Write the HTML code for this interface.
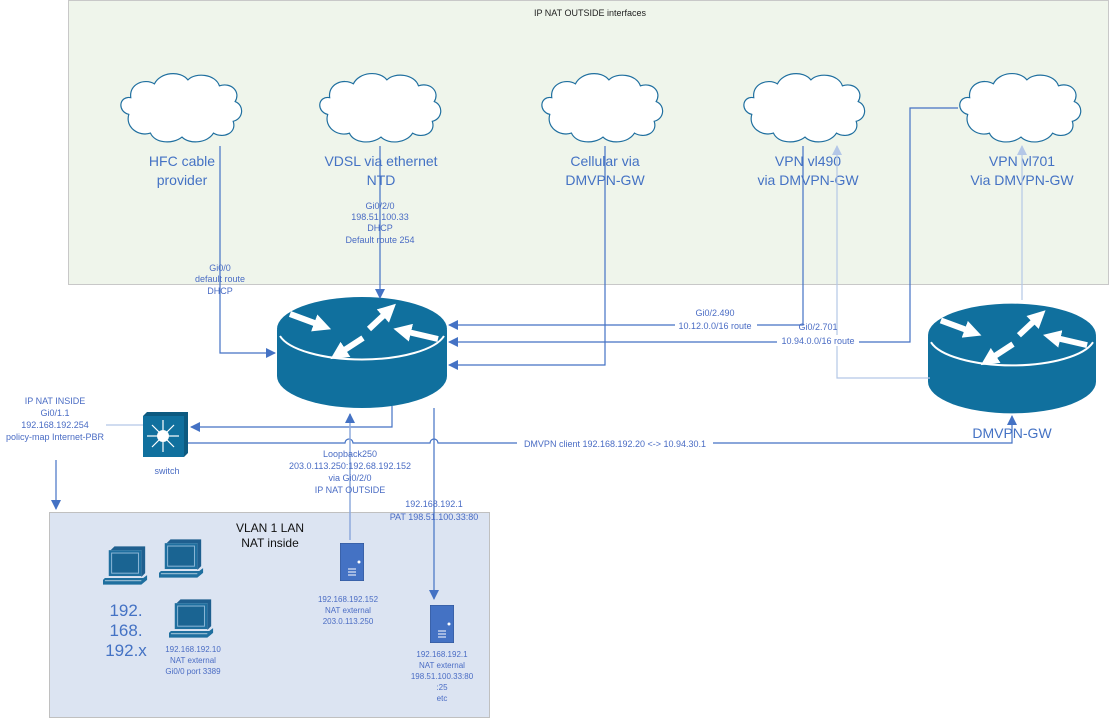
<!DOCTYPE html>
<html><head><meta charset="utf-8"><style>
html,body{margin:0;padding:0;background:#fff;}
svg{display:block;font-family:"Liberation Sans",sans-serif;}
.s{font-size:9px;fill:#4a6cc4;}
.m{font-size:14px;fill:#4472c4;}
</style></head><body>
<svg width="1110" height="719" viewBox="0 0 1110 719" xmlns="http://www.w3.org/2000/svg">
<defs>
<marker id="a" markerWidth="10" markerHeight="10" refX="9" refY="5" orient="auto" markerUnits="userSpaceOnUse"><path d="M0,0 L10,5 L0,10 z" fill="#4472c4"/></marker>
<marker id="al" markerWidth="10" markerHeight="10" refX="9" refY="5" orient="auto" markerUnits="userSpaceOnUse"><path d="M0,0 L10,5 L0,10 z" fill="#b4c7e7"/></marker>
<marker id="w" markerWidth="3" markerHeight="3" refX="0.5" refY="1.5" orient="auto" markerUnits="strokeWidth"><path d="M0,0 L3,1.5 L0,3 z" fill="#fff"/></marker>
<symbol id="cloud" viewBox="0 0 130 75">
<path d="M12,45 C0,42 2,26 14,28 C12,14 28,8 38,14 C44,2 64,0 72,10 C80,2 100,4 104,16 C116,12 126,22 120,32 C130,36 128,50 118,52 C122,64 108,70 98,64 C92,74 74,76 66,68 C56,76 38,74 34,64 C22,68 8,58 12,45 z" fill="#fff" stroke="#1f6f9f" stroke-width="1.2"/>
</symbol>
<symbol id="router" viewBox="0 0 170 112">
<path d="M0,34 L0,80 A85,32 0 0 0 170,80 L170,34 z" fill="#10709e"/>
<ellipse cx="85" cy="33" rx="85" ry="32" fill="#10709e"/>
<path d="M3,40 A84,30 0 0 0 167,40" fill="none" stroke="#fff" stroke-width="2"/>
<g stroke="#fff" stroke-width="6" marker-end="url(#w)">
<line x1="13" y1="18" x2="40" y2="28"/>
<line x1="92" y1="33" x2="108" y2="18"/>
<line x1="161" y1="43" x2="131" y2="36"/>
<line x1="86" y1="42" x2="66" y2="55"/>
</g>
</symbol>
<symbol id="pc" viewBox="0 0 48 40">
<path d="M8,4 L12,0 L44,0 L44,28 L40,32 L40,4 z" fill="#1f5f8f"/>
<rect x="6" y="4" width="34" height="27" fill="#1f6f9f"/>
<rect x="9" y="7" width="28" height="21" fill="#1a6492" stroke="#8fb8d8" stroke-width="1"/>
<path d="M2,33 L42,33 L46,30 L46,35 L40,40 L0,40 L0,35 z" fill="#1f6f9f"/>
<line x1="2" y1="36" x2="40" y2="36" stroke="#fff" stroke-width="0.7"/>
</symbol>
<symbol id="srv" viewBox="0 0 24 38">
<rect x="0" y="0" width="24" height="38" fill="#4472c4" stroke="#2f528f" stroke-width="1"/>
<circle cx="19" cy="19" r="1.5" fill="#fff"/>
<line x1="8" y1="26" x2="16" y2="26" stroke="#fff"/><line x1="8" y1="29" x2="16" y2="29" stroke="#fff"/><line x1="8" y1="32" x2="16" y2="32" stroke="#fff"/>
</symbol>
</defs>

<rect x="68.5" y="0.5" width="1040" height="284" fill="#eff5eb" stroke="#c8c8c8"/>
<text x="590" y="16" font-size="9" text-anchor="middle" fill="#222">IP NAT OUTSIDE interfaces</text>

<rect x="49.5" y="512.5" width="440" height="205" fill="#dce4f2" stroke="#c0c0c0"/>
<text x="270" y="532" font-size="12" text-anchor="middle" fill="#111">VLAN 1 LAN</text>
<text x="270" y="547" font-size="12" text-anchor="middle" fill="#111">NAT inside</text>

<use href="#cloud" x="117" y="70" width="128" height="74"/>
<use href="#cloud" x="315" y="70" width="130" height="74"/>
<use href="#cloud" x="538" y="70" width="128" height="74"/>
<use href="#cloud" x="740" y="70" width="128" height="74"/>
<use href="#cloud" x="955" y="70" width="130" height="74"/>

<g class="m" text-anchor="middle">
<text x="182" y="166">HFC cable</text><text x="182" y="185">provider</text>
<text x="381" y="166">VDSL via ethernet</text><text x="381" y="185">NTD</text>
<text x="605" y="166">Cellular via</text><text x="605" y="185">DMVPN-GW</text>
<text x="808" y="166">VPN vl490</text><text x="808" y="185">via DMVPN-GW</text>
<text x="1022" y="166">VPN vl701</text><text x="1022" y="185">Via DMVPN-GW</text>
<text x="1012" y="438">DMVPN-GW</text>
</g>

<use href="#router" x="277" y="296" width="170" height="112"/>
<use href="#router" x="928" y="302" width="168" height="112"/>

<g fill="none" stroke="#4472c4" stroke-width="1.2">
<path d="M220,146 V353 H275" marker-end="url(#a)"/>
<path d="M380,146 V298" marker-end="url(#a)"/>
<path d="M605,146 V365 H449" marker-end="url(#a)"/>
<path d="M803,146 V325 H449" marker-end="url(#a)"/>
<path d="M958,108 H910 V342 H449" marker-end="url(#a)"/>
<path d="M392,406 V427 H191" marker-end="url(#a)"/>
<path d="M188,443 H345 a4,4 0 0 1 8,0 H430 a4,4 0 0 1 8,0 H1012 V416" marker-end="url(#a)"/>
<path d="M434,408 V599" marker-end="url(#a)"/>
<path d="M56,460 V509" marker-end="url(#a)"/>
</g>
<g fill="none" stroke="#b4c7e7" stroke-width="1.2">
<path d="M930,378 H837 V146" marker-end="url(#al)"/>
<path d="M1022,300 V146" marker-end="url(#al)"/>
<path d="M106,425 H143"/>
</g>
<path d="M350,512 V414" fill="none" stroke="#8faadc" stroke-width="1.5" marker-end="url(#a)"/>
<path d="M350,512 V540" fill="none" stroke="#8faadc" stroke-width="1.5"/>

<g>
<path d="M143,416 L147,412 L188,412 L188,453 L184,457 z" fill="#0d5a80"/>
<rect x="143" y="416" width="41" height="41" fill="#10709e"/>
<circle cx="163" cy="436" r="6" fill="#fff"/>
<g stroke="#fff" stroke-width="1.2">
<line x1="163" y1="430" x2="163" y2="420"/><line x1="163" y1="442" x2="163" y2="452"/>
<line x1="157" y1="436" x2="147" y2="436"/><line x1="169" y1="436" x2="179" y2="436"/>
<line x1="159" y1="432" x2="152" y2="425"/><line x1="167" y1="432" x2="174" y2="425"/>
<line x1="159" y1="440" x2="152" y2="447"/><line x1="167" y1="440" x2="174" y2="447"/>
</g>
</g>
<text x="167" y="474" class="s" text-anchor="middle">switch</text>

<use href="#pc" x="103" y="546" width="46" height="39"/>
<use href="#pc" x="159" y="539" width="46" height="39"/>
<use href="#pc" x="169" y="599" width="46" height="39"/>
<use href="#srv" x="340" y="543" width="24" height="38"/>
<use href="#srv" x="430" y="605" width="24" height="38"/>

<g class="s" text-anchor="middle">
<text x="220" y="271">Gi0/0</text><text x="220" y="282">default route</text><text x="220" y="294">DHCP</text>
<text x="380" y="209">Gi0/2/0</text><text x="380" y="220">198.51.100.33</text><text x="380" y="231">DHCP</text><text x="380" y="243">Default route 254</text>
<text x="715" y="316">Gi0/2.490</text>
<text x="818" y="330">Gi0/2.701</text>
<text x="55" y="404">IP NAT INSIDE</text><text x="55" y="416">Gi0/1.1</text><text x="55" y="428">192.168.192.254</text><text x="55" y="440">policy-map Internet-PBR</text>
<text x="350" y="457">Loopback250</text><text x="350" y="469">203.0.113.250:192.68.192.152</text><text x="350" y="481">via Gi0/2/0</text><text x="350" y="493">IP NAT OUTSIDE</text>
<text x="434" y="507">192.168.192.1</text><text x="434" y="520">PAT 198.51.100.33:80</text>
<text x="193" y="652" font-size="8">192.168.192.10</text><text x="193" y="663" font-size="8">NAT external</text><text x="193" y="674" font-size="8">Gi0/0 port 3389</text>
<text x="348" y="602" font-size="8">192.168.192.152</text><text x="348" y="613" font-size="8">NAT external</text><text x="348" y="624" font-size="8">203.0.113.250</text>
<text x="442" y="657" font-size="8">192.168.192.1</text><text x="442" y="668" font-size="8">NAT external</text><text x="442" y="679" font-size="8">198.51.100.33:80</text><text x="442" y="690" font-size="8">:25</text><text x="442" y="701" font-size="8">etc</text>
</g>
<g class="s" text-anchor="middle">
<rect x="675" y="320" width="82" height="11" fill="#fff"/>
<text x="715" y="329">10.12.0.0/16 route</text>
<rect x="777" y="335" width="82" height="11" fill="#fff"/>
<text x="818" y="344">10.94.0.0/16 route</text>
<rect x="517" y="438" width="196" height="11" fill="#fff"/>
<text x="615" y="447">DMVPN client 192.168.192.20 &lt;-&gt; 10.94.30.1</text>
</g>
<g font-size="17" fill="#4472c4" text-anchor="middle">
<text x="126" y="616">192.</text><text x="126" y="636">168.</text><text x="126" y="656">192.x</text>
</g>
</svg>
</body></html>
